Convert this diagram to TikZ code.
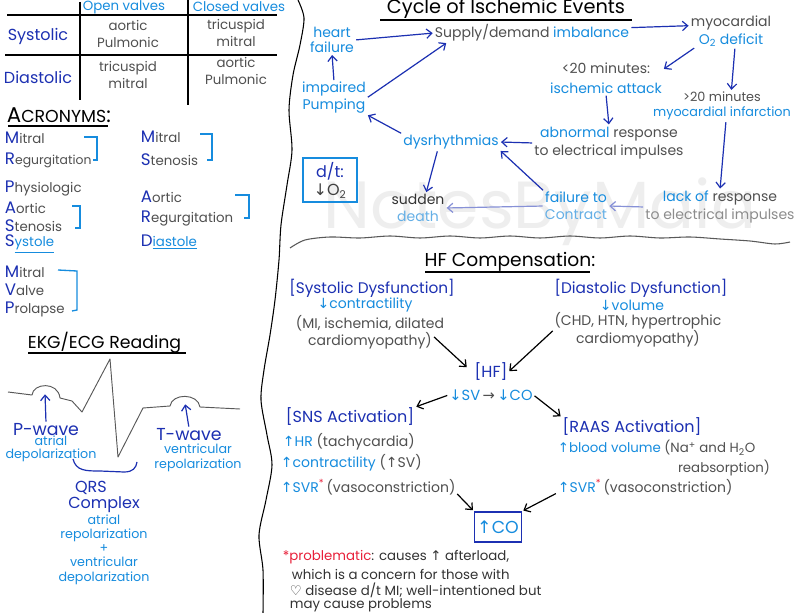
\documentclass[tikz,border=0pt]{standalone}
\usepackage{fontspec}
\setmainfont{Poppins}
\newfontfamily\symf{DejaVu Sans}
\usetikzlibrary{arrows.meta,calc}
\definecolor{dkblue}{RGB}{28,48,178}
\definecolor{ltblue}{RGB}{22,140,222}
\definecolor{txtgray}{RGB}{80,80,80}
\definecolor{lgray}{RGB}{140,140,140}
\definecolor{paleblue}{RGB}{100,175,230}
\definecolor{palearr}{RGB}{135,145,215}
\definecolor{astred}{RGB}{232,32,58}
\definecolor{wmark}{RGB}{238,238,238}
\newcommand\myup{{\symf ↑}}
\newcommand\mydn{{\symf ↓}}
\newcommand\FL[1]{{\color{dkblue}\fontsize{12.5}{14}\selectfont #1}}
\newcommand\gry[1]{{\color{txtgray}#1}}
\newcommand\rast{\textsuperscript{\color{astred}*}}
\begin{document}
\begin{tikzpicture}[x=0.75pt,y=-0.75pt,
 every node/.style={inner sep=0.5pt,align=center},
 g/.style={text=txtgray,font=\fontsize{10}{12.75}\selectfont},
 lb/.style={text=ltblue,font=\fontsize{10.5}{12.75}\selectfont},
 dk/.style={text=dkblue,font=\fontsize{12}{14}\selectfont},
 ttl/.style={text=black,font=\fontsize{14}{16}\selectfont},
 acr/.style={g,anchor=west},
 arr/.style={draw=dkblue,line width=0.9pt,-{Straight Barb[length=4pt,width=7pt]},shorten <=1pt,shorten >=1pt},
 parr/.style={arr,draw=palearr},
 karr/.style={arr,draw=black},
 brk/.style={draw=ltblue,line width=1pt},
 tline/.style={draw=black,line width=0.9pt},
]
\useasboundingbox (0,0) rectangle (794,613);
\fill[white] (0,0) rectangle (794,613);
% watermark
\node[text=wmark,font=\fontsize{50}{50}\selectfont] (wm) at (540,212) {NotesByMaia};

% dividers
\draw[line width=0.8pt] plot[smooth] coordinates {(298,0) (304,18) (300,45) (293,75) (289,110) (292,150) (287,185) (281,225) (279,260) (275,300) (270,335) (264,370) (261,400) (267,435) (272,465) (266,500) (259,535) (263,570) (263,613)};
\draw[line width=0.8pt,draw=black!65] plot[smooth] coordinates {(290,248) (305,240) (330,237) (360,238) (390,236) (420,238) (450,236) (480,238) (510,236) (540,238) (570,236) (600,238) (630,236) (660,238) (690,237) (720,239) (750,241) (775,244) (790,242)};

% table
\draw[tline] (7,15) -- (277,15);
\draw[tline] (5,55) -- (277,55);
\draw[tline] (80,2) -- (80,100);
\draw[tline] (188,0) -- (188,105);
\node[lb,font=\fontsize{10}{12}\selectfont] (ov) at (124,7) {Open valves};
\node[lb,font=\fontsize{10}{12}\selectfont] (cv) at (239,7) {Closed valves};
\node[dk] (sys) at (38,36) {Systolic};
\node[dk] (dia) at (38,77) {Diastolic};
\node[g] (t11) at (128,34) {aortic\\Pulmonic};
\node[g] (t12) at (236,33) {tricuspid\\mitral};
\node[g] (t21) at (128,75) {tricuspid\\mitral};
\node[g] (t22) at (236,71) {aortic\\Pulmonic};

% acronyms
\node[anchor=west,font=\fontsize{16}{18}\selectfont] (acro) at (6,115) {A{\fontsize{13}{18}\selectfont CRONYMS}:};
\draw[tline] (8,126) -- (108,126);
\node[acr] (a1) at (4,138) {\FL{M}itral};
\node[acr,font=\fontsize{9.3}{12}\selectfont] (a2) at (4,160) {\FL{R}egurgitation};
\draw[brk] (84,137) -- (97,137) -- (97,160) -- (93,160);
\node[acr] (b1) at (140,137) {\FL{M}itral};
\node[acr] (b2) at (140,160) {\FL{S}tenosis};
\draw[brk] (200,134) -- (212,134) -- (212,160) -- (207,160);
\node[acr] (a3) at (4,188) {\FL{P}hysiologic};
\node[acr] (a4) at (4,208) {\FL{A}ortic};
\node[acr] (a5) at (4,226) {\FL{S}tenosis};
\node[acr] (a6) at (4,244) {\FL{S}\textcolor{ltblue}{\underline{ystole}}};
\draw[brk] (72,206) -- (80,206) -- (80,228) -- (75,228);
\node[acr] (b3) at (140,197) {\FL{A}ortic};
\node[acr] (b4) at (140,218) {\FL{R}egurgitation};
\draw[brk] (235,195) -- (249,195) -- (249,218) -- (244,218);
\node[acr] (b5) at (140,242) {\FL{D}\textcolor{ltblue}{\underline{iastole}}};
\node[acr] (a7) at (4,272) {\FL{M}itral};
\node[acr] (a8) at (4,290) {\FL{V}alve};
\node[acr] (a9) at (4,309) {\FL{P}rolapse};
\draw[brk] (58,270) -- (77,271) -- (77,310) -- (72,311);

% EKG
\node[anchor=west,font=\fontsize{13}{15}\selectfont] (ekg) at (27,343) {EKG/ECG Reading};
\draw[tline] (28,353) -- (186,353);
\draw[line width=0.7pt,draw=black!65,line join=round] (8,392) -- (32,395) .. controls (33,383) and (58,381) .. (60,398) -- (72,401) -- (82,412) -- (110,359) -- (118,457) -- (143,408) -- (170,406) .. controls (172,393) and (198,393) .. (200,407) -- (240,409);
\coordinate (ptop) at (45,393);
\coordinate (ttop) at (185,403);
\node[dk,font=\fontsize{13}{14}\selectfont] (pw) at (46,430) {P-wave};
\node[lb,font=\fontsize{9.5}{9.4}\selectfont] (pwd) at (51,449) {atrial\\depolarization};
\draw[arr] (pw.north) -- (ptop);
\node[dk,font=\fontsize{13}{14}\selectfont] (tw) at (189,435) {T-wave};
\node[lb,font=\fontsize{9.5}{11.25}\selectfont] (twd) at (198,458) {ventricular\\repolarization};
\draw[arr] (tw.north) -- (ttop);
\draw[draw=dkblue,line width=0.9pt] (73,459) .. controls (76,471) and (86,471) .. (100,471) -- (124,472) .. controls (133,472) and (136,468) .. (137,462);
\node[dk] (qrs) at (91,488) {QRS};
\node[dk] (cplx) at (104,505) {Complex};
\node[lb,font=\fontsize{9.5}{10.7}\selectfont] (qrsd) at (104,549.5) {atrial\\repolarization\\+\\ventricular\\depolarization};

% Cycle of ischemic events
\node[ttl,font=\fontsize{14.5}{16}\selectfont] (cyc) at (506,9) {Cycle of Ischemic Events};
\draw[tline] (380,20) -- (632,20);
\node[lb,font=\fontsize{10.5}{11.25}\selectfont] (hf) at (332,40) {heart\\failure};
\node[lb] (supply) at (532,33) {\gry{Supply/demand} imbalance};
\node[lb,font=\fontsize{10.5}{13.5}\selectfont] (myo) at (731,31) {\gry{myocardial}\\O\textsubscript{2} deficit};
\node[lb,font=\fontsize{10.5}{15}\selectfont] (isch) at (606,78) {\gry{<20 minutes:}\\ischemic attack};
\node[lb,font=\fontsize{9.6}{11}\selectfont] (mi) at (722,106) {\gry{>20 minutes}\\myocardial infarction};
\node[lb,font=\fontsize{10.5}{12.75}\selectfont] (imp) at (334,98) {impaired\\Pumping};
\node[lb,font=\fontsize{10.5}{14}\selectfont] (abn) at (609,143) {abnormal \gry{response}\\\gry{to electrical impulses}};
\node[lb] (dys) at (451,142) {dysrhythmias};
\node[lb,font=\fontsize{10.5}{12.75}\selectfont] (sd) at (418,208) {{\color{black!80}sudden}\\{\color{paleblue}death}};
\node[lb,font=\fontsize{10.5}{12.75}\selectfont] (fail) at (576,206) {failure to\\{\color{paleblue}Contract}};
\node[lb,font=\fontsize{10.5}{13.5}\selectfont] (lack) at (720,207) {lack of \gry{response}\\{\color{lgray}to electrical impulses}};
\node[draw=ltblue,line width=1pt,minimum width=40.5pt,minimum height=33pt,font=\fontsize{12}{14}\selectfont,text=black!75] (dt) at (330,180) {{\color{dkblue}d/t:}\\\mydn O\textsubscript{2}};
\draw[arr] (hf.east) -- (supply.west);
\draw[arr] ([yshift=4pt]supply.east) -- ([yshift=4pt]myo.west);
\draw[arr] ([xshift=4pt]myo.south west) -- ([yshift=-6pt]isch.north east);
\draw[arr] ([xshift=3pt]myo.south) -- ([xshift=7pt]mi.north);
\draw[arr] (isch.south) -- (abn.north);
\draw[arr] (abn.west) -- (dys.east);
\draw[arr] (dys.north west) -- (imp.south east);
\draw[arr] (imp.north) -- (hf.south);
\draw[arr] (imp.east) -- ([xshift=10pt]supply.south west);
\draw[arr] ([xshift=-10pt]dys.south) -- ([xshift=6pt]sd.north);
\draw[arr] ([xshift=3pt]mi.south) -- (lack.north);
\draw[parr] (lack.west) -- (fail.east);
\draw[arr] (fail.north west) -- (dys.south east);
\draw[parr] (fail.west) -- (sd.east);

% HF compensation
\node[ttl] (hfc) at (510,262) {HF Compensation:};
\draw[tline] (425,272) -- (590,272);
\node[dk,font=\fontsize{11.5}{14}\selectfont] (sysd) at (372,288) {[Systolic Dysfunction]};
\node[lb] (sysc) at (365,305) {\mydn contractility};
\node[g,font=\fontsize{10.5}{12.75}\selectfont] (sysn) at (370,332) {(MI, ischemia, dilated\\cardiomyopathy)};
\node[dk,font=\fontsize{11.5}{14}\selectfont] (diad) at (641,288) {[Diastolic Dysfunction]};
\node[lb] (diav) at (632,305) {\mydn volume};
\node[g,font=\fontsize{10.5}{12}\selectfont] (dian) at (638,330) {(CHD, HTN, hypertrophic\\cardiomyopathy)};
\node[dk] (hfn) at (491,372) {[HF]};
\node[lb,font=\fontsize{11}{13}\selectfont] (svco) at (491,395) {\mydn SV\,\gry{\symf →}\,\mydn CO};
\draw[karr] ($(sysn.east)+(-12,4)$) -- ($(hfn.west)+(-6,-4)$);
\draw[karr] (dian.west) -- (hfn.east);
\node[dk] (sns) at (350,417) {[SNS Activation]};
\node[lb,anchor=west] (sn1) at (282,442) {\myup HR \gry{(tachycardia)}};
\node[lb,anchor=west] (sn2) at (280,463) {\myup contractility \gry{(\myup SV)}};
\node[lb,anchor=west] (sn3) at (280,487) {\myup SVR\rast\,\gry{(vasoconstriction)}};
\node[dk] (raas) at (632,427) {[RAAS Activation]};
\node[lb,anchor=west,font=\fontsize{10}{12}\selectfont] (ra1) at (557,448) {\myup blood volume \gry{(Na\textsuperscript{+} and H\textsubscript{2}O}};
\node[g] (ra1b) at (724,468) {reabsorption)};
\node[lb,anchor=west] (ra2) at (557,487) {\myup SVR\rast\,\gry{(vasoconstriction)}};
\node[draw=dkblue,line width=1.2pt,minimum width=35pt,minimum height=22.5pt,text=ltblue,font=\fontsize{13}{14}\selectfont] (co) at (498,527) {\myup CO};
\draw[karr] (svco.west) -- (sns.north east);
\draw[karr] (svco.east) -- (raas.north west);
\draw[karr] ($(sn3.east)+(0,6)$) -- (co.north west);
\draw[karr] ($(ra2.west)+(0,6)$) -- (co.north east);

% problematic note
\node[anchor=west,text=black!80,font=\fontsize{10}{12}\selectfont] (p1) at (282,557) {{\color{astred}*problematic}: causes \myup\ afterload,};
\node[anchor=west,text=black!80,font=\fontsize{10}{12}\selectfont] (p2) at (291,574) {which is a concern for those with};
\node[anchor=west,text=black!80,font=\fontsize{10}{12}\selectfont] (p3) at (289,590) {{\symf ♡} disease d/t MI; well-intentioned but};
\node[anchor=west,text=black!80,font=\fontsize{10}{12}\selectfont] (p4) at (289,605) {may cause problems};
\end{tikzpicture}
\end{document}
